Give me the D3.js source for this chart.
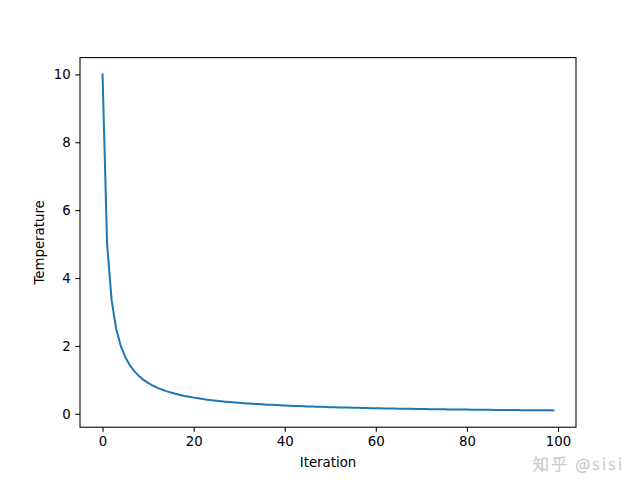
<!DOCTYPE html>
<html><head><meta charset="utf-8">
<script src="https://cdn.jsdelivr.net/npm/d3@7"></script>
<style>body{margin:0;background:#fff}svg{display:block}</style>
</head><body>
<svg id="c" width="640" height="480"></svg>
<script>
const temperature = [10, 5, 3.333, 2.5, 2, 1.667, 1.429, 1.25, 1.111, 1,
0.909, 0.833, 0.769, 0.714, 0.667, 0.625, 0.588, 0.556, 0.526, 0.5,
0.476, 0.455, 0.435, 0.417, 0.4, 0.385, 0.370, 0.357, 0.345, 0.333,
0.323, 0.313, 0.303, 0.294, 0.286, 0.278, 0.270, 0.263, 0.256, 0.25,
0.244, 0.238, 0.233, 0.227, 0.222, 0.217, 0.213, 0.208, 0.204, 0.2,
0.196, 0.192, 0.189, 0.185, 0.182, 0.179, 0.175, 0.172, 0.169, 0.167,
0.164, 0.161, 0.159, 0.156, 0.154, 0.152, 0.149, 0.147, 0.145, 0.143,
0.141, 0.139, 0.137, 0.135, 0.133, 0.132, 0.130, 0.128, 0.127, 0.125,
0.123, 0.122, 0.120, 0.119, 0.118, 0.116, 0.115, 0.114, 0.112, 0.111,
0.110, 0.109, 0.108, 0.106, 0.105, 0.104, 0.103, 0.102, 0.101, 0.1];
const xTicks = [0, 20, 40, 60, 80, 100];
const yTicks = [0, 2, 4, 6, 8, 10];
const xLabel = "Iteration";
const yLabel = "Temperature";
const watermark = "知乎 @sisi";

const svg = d3.select("#c");
const L = 80, R = 576, T = 57.6, B = 427.2;
const n = temperature.length;
const xmin = 0, xmax = n - 1;
const ymin = d3.min(temperature), ymax = d3.max(temperature);
const xm = (xmax - xmin) * 0.05, ym = (ymax - ymin) * 0.05;
const x = d3.scaleLinear().domain([xmin - xm, xmax + xm]).range([L, R]);
const y = d3.scaleLinear().domain([ymin - ym, ymax + ym]).range([B, T]);
const font = "DejaVu Sans, sans-serif";

const line = d3.line().x((d, i) => x(i)).y(d => y(d));
svg.append("path").datum(temperature).attr("d", line)
  .attr("fill", "none").attr("stroke", "#1f77b4").attr("stroke-width", 2)
  .attr("stroke-linejoin", "round").attr("stroke-linecap", "square");

const xa = svg.append("g").attr("transform", `translate(0,${B})`)
  .call(d3.axisBottom(x).tickValues(xTicks).tickSize(4.67).tickPadding(4.7).tickFormat(d3.format("d")));
const ya = svg.append("g").attr("transform", `translate(${L},0)`)
  .call(d3.axisLeft(y).tickValues(yTicks).tickSize(4.67).tickPadding(4.7).tickFormat(d3.format("d")));
[xa, ya].forEach(g => {
  g.select(".domain").remove();
  g.selectAll("line").attr("stroke", "#000").attr("stroke-width", 1.07);
  g.selectAll("text").attr("font-family", font).attr("font-size", 13.33).attr("fill", "#000");
});

svg.append("rect").attr("x", L).attr("y", T).attr("width", R - L).attr("height", B - T)
  .attr("fill", "none").attr("stroke", "#000").attr("stroke-width", 1.07);

svg.append("text").attr("x", (L + R) / 2).attr("y", 467).attr("text-anchor", "middle")
  .attr("font-family", font).attr("font-size", 13.33).text(xLabel);
svg.append("text").attr("transform", `translate(44,${(T + B) / 2}) rotate(-90)`)
  .attr("text-anchor", "middle").attr("font-family", font).attr("font-size", 13.33).text(yLabel);

svg.append("text").attr("x", 533).attr("y", 470)
  .attr("font-family", "Noto Sans CJK SC, sans-serif").attr("font-size", 16).attr("font-weight", 300)
  .attr("textLength", 89).attr("lengthAdjust", "spacing")
  .attr("fill", "#fdfdfd").attr("stroke", "#c4c4c4").attr("stroke-width", 0.6)
  .text(watermark);
</script>
</body></html>
